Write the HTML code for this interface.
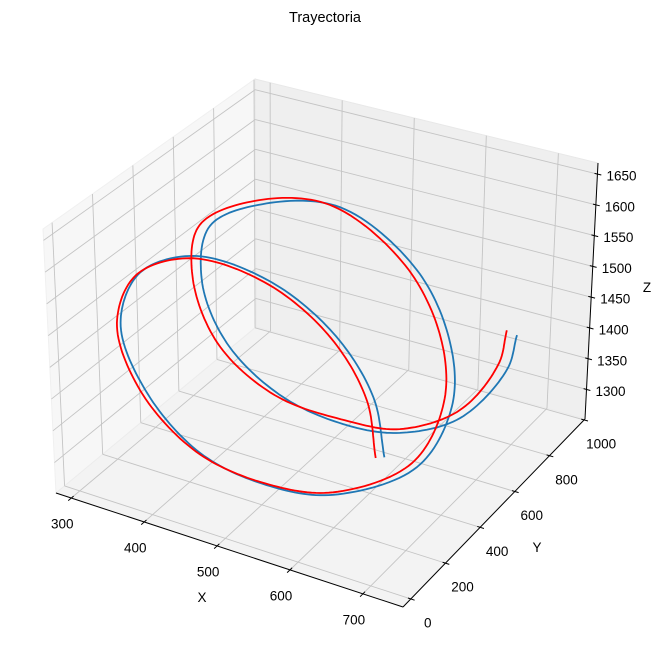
<!DOCTYPE html>
<html><head><meta charset="utf-8"><style>
html,body{margin:0;padding:0;background:#fff;}
svg{display:block;font-family:"Liberation Sans","DejaVu Sans",sans-serif;}
</style></head><body>
<svg id="chart" width="651" height="656" viewBox="0 0 651 656" xmlns="http://www.w3.org/2000/svg">
<rect width="651" height="656" fill="#fff"/>
<text x="325" y="22" text-anchor="middle" font-size="14.5" fill="#000">Trayectoria</text>
<g id="panes"></g>
<g id="grid"></g>
<g id="axes"></g>
<g id="series"></g>
<text x="202" y="602" text-anchor="middle" font-size="13.5">X</text>
<text x="537" y="552" text-anchor="middle" font-size="13.5">Y</text>
<text x="647" y="292" text-anchor="middle" font-size="13.5">Z</text>
</svg>
<script>
const xTicks = [300, 400, 500, 600, 700];
const yTicks = [0, 200, 400, 600, 800, 1000];
const zTicks = [1300, 1350, 1400, 1450, 1500, 1550, 1600, 1650];
const xLimits = [279, 755];
const yLimits = [-45, 1005];
const zLimits = [1252, 1668];

const blueX = [718,693,628,527,414,331,295,319,385,467,549,655,693,681,625,509,392,310,289,314,381,460,523,596,651,655];
const blueY = [20,58,96,134,172,210,248,286,324,362,400,438,476,514,552,590,628,666,704,742,780,818,856,894,932,970];
const blueZ = [1444,1522,1593,1635,1626,1561,1460,1351,1262,1228,1230,1300,1399,1487,1576,1628,1584,1512,1409,1306,1233,1204,1203,1241,1327,1374];

const redX = [706,683,621,523,410,326,290,312,380,465,549,648,682,668,609,495,382,296,276,301,370,457,523,596,639,641];
const redY = [20,58,96,134,172,210,248,286,324,362,400,438,476,514,552,590,628,666,704,742,780,818,856,894,932,970];
const redZ = [1439,1517,1588,1630,1621,1556,1458,1348,1262,1230,1234,1304,1402,1491,1578,1627,1586,1509,1412,1302,1232,1211,1209,1254,1331,1377];

const C = [[[[56,493],[43,229]],[[256,327],[255,79]]],[[[403,607],[403,335]],[[585,419],[598,163]]]];
function norm(x,y,z){
  return [(x-xLimits[0])/(xLimits[1]-xLimits[0]),(y-yLimits[0])/(yLimits[1]-yLimits[0]),(z-zLimits[0])/(zLimits[1]-zLimits[0])];
}
function proj(x,y,z){
  const [u,v,w]=norm(x,y,z);
  let px=0,py=0;
  for(let i=0;i<2;i++)for(let j=0;j<2;j++)for(let k=0;k<2;k++){
    const f=(i?u:1-u)*(j?v:1-v)*(k?w:1-w);
    px+=f*C[i][j][k][0]; py+=f*C[i][j][k][1];
  }
  return [px,py];
}
function projInterior(x,y,z){
  const [u,v,w]=norm(x,y,z);
  return [325+(u-.5)*345+(v-.5)*197, 331.5+(u-.5)*99-(v-.5)*169-(w-.5)*260];
}
const NS="http://www.w3.org/2000/svg";
function mk(tag,attrs,parent){const e=document.createElementNS(NS,tag);for(const k in attrs)e.setAttribute(k,attrs[k]);parent.appendChild(e);return e;}
const X0=xLimits[0],X1=xLimits[1],Y0=yLimits[0],Y1=yLimits[1],Z0=zLimits[0],Z1=zLimits[1];
const panes=document.getElementById('panes'),grid=document.getElementById('grid'),axes=document.getElementById('axes'),series=document.getElementById('series');
function poly(pts){return pts.map(p=>p.join(',')).join(' ');}
let p;
p=mk('polygon',{points:poly([proj(X0,Y0,Z0),proj(X0,Y1,Z0),proj(X0,Y1,Z1),proj(X0,Y0,Z1)]),fill:'#f7f7f7',stroke:'#f0f0f0'},panes);


p=mk('polygon',{points:poly([proj(X0,Y1,Z0),proj(X1,Y1,Z0),proj(X1,Y1,Z1),proj(X0,Y1,Z1)]),fill:'#efefef',stroke:'#e8e8e8'},panes);


p=mk('polygon',{points:poly([proj(X0,Y0,Z0),proj(X1,Y0,Z0),proj(X1,Y1,Z0),proj(X0,Y1,Z0)]),fill:'#f3f3f3',stroke:'#ececec'},panes);



function line(a,b,parent,color,wd){return mk('line',{x1:a[0],y1:a[1],x2:b[0],y2:b[1],stroke:color,'stroke-width':wd},parent);}
const gc='#c4c4c4';
xTicks.forEach(t=>{
  let l=line(proj(t,Y0,Z0),proj(t,Y1,Z0),grid,gc,0.9);
  
  
  l=line(proj(t,Y1,Z0),proj(t,Y1,Z1),grid,gc,0.9);
  
  
});
yTicks.forEach(t=>{
  let l=line(proj(X0,t,Z0),proj(X1,t,Z0),grid,gc,0.9);
  
  
  l=line(proj(X0,t,Z0),proj(X0,t,Z1),grid,gc,0.9);
  
  
});
zTicks.forEach(t=>{
  let l=line(proj(X0,Y0,t),proj(X0,Y1,t),grid,gc,0.9);
  
  
  l=line(proj(X0,Y1,t),proj(X1,Y1,t),grid,gc,0.9);
  
  
});
let al=line(proj(X0,Y0,Z0),proj(X1,Y0,Z0),axes,'#000',1);


al=line(proj(X1,Y0,Z0),proj(X1,Y1,Z0),axes,'#000',1);


al=line(proj(X1,Y1,Z0),proj(X1,Y1,Z1),axes,'#000',1);



function unit(a,b){const dx=b[0]-a[0],dy=b[1]-a[1],n=Math.hypot(dx,dy);return [dx/n,dy/n];}
function tick(pt,n){return line([pt[0]-n[0]*3,pt[1]-n[1]*3],[pt[0]+n[0]*4,pt[1]+n[1]*4],axes,'#000',1);}
function label(txt,x,y,anchor){const t=mk('text',{x:x,y:y,'text-anchor':anchor,'font-size':'13.5','dominant-baseline':'middle',fill:'#000'},axes);t.textContent=txt;return t;}
xTicks.forEach(t=>{
  const pt=proj(t,Y0,Z0);
  const tk=tick(pt,unit(proj(t,Y1,Z0),pt));
  
  
  const lb=label(String(t),pt[0]-9,pt[1]+27,'middle');
  
  
});
yTicks.forEach(t=>{
  const pt=proj(X1,t,Z0);
  const tk=tick(pt,unit(proj(X0,t,Z0),pt));
  
  
  const lb=label(String(t),pt[0]+17,pt[1]+25,'middle');
  
  
});
zTicks.forEach(t=>{
  const pt=proj(X1,Y1,t);
  const tk=tick(pt,unit(proj(X0,Y1,t),pt));
  
  
  const lb=label(String(t),pt[0]+9,pt[1]+3,'start');
  
  
});

// centripetal Catmull-Rom sampled into a dense polyline
function smoothPath(pts){
  const n=pts.length, out=[pts[0]];
  const ext=[[2*pts[0][0]-pts[1][0],2*pts[0][1]-pts[1][1]],...pts,[2*pts[n-1][0]-pts[n-2][0],2*pts[n-1][1]-pts[n-2][1]]];
  function tj(ti,a,b){return ti+Math.pow(Math.hypot(b[0]-a[0],b[1]-a[1]),0.5);}
  for(let i=1;i<ext.length-2;i++){
    const P0=ext[i-1],P1=ext[i],P2=ext[i+1],P3=ext[i+2];
    const t0=0,t1=tj(t0,P0,P1),t2=tj(t1,P1,P2),t3=tj(t2,P2,P3);
    for(let s=1;s<=16;s++){
      const t=t1+(t2-t1)*s/16;
      const L=(A,B,ta,tb)=>[(tb-t)/(tb-ta)*A[0]+(t-ta)/(tb-ta)*B[0],(tb-t)/(tb-ta)*A[1]+(t-ta)/(tb-ta)*B[1]];
      const A1=L(P0,P1,t0,t1),A2=L(P1,P2,t1,t2),A3=L(P2,P3,t2,t3);
      const B1=L(A1,A2,t0,t2),B2=L(A2,A3,t1,t3);
      out.push(L(B1,B2,t1,t2));
    }
  }
  return 'M'+out.map(q=>q[0].toFixed(1)+','+q[1].toFixed(1)).join(' L');
}
const bluePts=blueX.map((x,i)=>projInterior(x,blueY[i],blueZ[i]));
const bp=mk('path',{d:smoothPath(bluePts),fill:'none',stroke:'#1f77b4','stroke-width':1.8,'stroke-linejoin':'round'},series);


const redPts=redX.map((x,i)=>projInterior(x,redY[i],redZ[i]));
const rp=mk('path',{d:smoothPath(redPts),fill:'none',stroke:'#ff0000','stroke-width':1.8,'stroke-linejoin':'round'},series);


</script>
</body></html>
